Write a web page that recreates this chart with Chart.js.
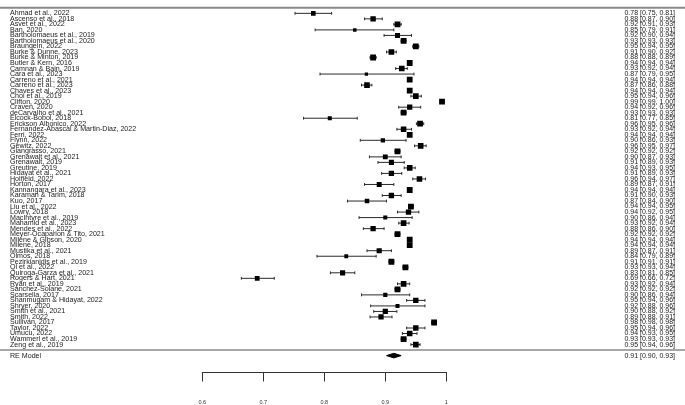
<!DOCTYPE html>
<html>
<head>
<meta charset="utf-8">
<script src="https://cdn.jsdelivr.net/npm/chart.js@4.4.0/dist/chart.umd.min.js"></script>
<style>
html,body{margin:0;padding:0;background:#fff;}
#wrap{width:685px;height:405px;position:relative;}
</style>
</head>
<body>
<div id="wrap"><canvas id="c"></canvas></div>
<script>
const studies = [
  "Ahmad et al., 2022","Ascenso et al., 2018","Asvet et al., 2022","Ban, 2020",
  "Bartholomaeus et al., 2019","Bartholomaeus et al., 2020","Braungein, 2022",
  "Burke & Dunne, 2023","Burke & Minton, 2019","Butler & Kern, 2016","Camnan & Bain, 2019",
  "Cara et al., 2023","Carreno et al., 2021","Carreno et al., 2023","Chaves et al., 2023",
  "Choi et al., 2019","Clifton, 2020","Craven, 2020","deCarvalho et al., 2021",
  "Elcock-Bobol, 2018","Erickson Albonico, 2022","Fernandez-Abascal & Martin-Diaz, 2022",
  "Ferri, 2022","Flynn, 2022","Gewitz, 2022","Giangrasso, 2021","Grenawalt et al., 2021",
  "Grenawalt, 2019","Greutine, 2019","Hidayat et al., 2021","Holfield, 2022","Horton, 2017",
  "Kannangara et al., 2023","Karaman & Tarim, 2018","Kuo, 2017","Liu et al., 2022",
  "Lowry, 2018","MacIntyre et al., 2019","Mahamid et al., 2023","Mendes et al., 2022",
  "Meyer-Ocaparion & Tito, 2021","Milene & Gibson, 2020","Milene, 2018","Mustika et al., 2021",
  "Olmos, 2018","Pezirkianidis et al., 2019","Qi et al., 2022","Quiroga-Garza et al., 2021",
  "Rogers & Hart, 2021","Ryan et al., 2019","Sanchez-Solane, 2021","Scarsella, 2017",
  "Shanmugam & Hidayat, 2022","Shryer, 2020","Smith et al., 2021","Smith, 2022",
  "Sullivan, 2017","Taylor, 2022","Umucu, 2022","Wammerl et al., 2019","Zeng et al., 2019"
];
const estimates = [
  0.782,0.880,0.920,0.850,0.920,0.930,0.950,0.910,0.880,0.940,0.927,
  0.869,0.940,0.870,0.940,0.950,0.993,0.940,0.930,0.809,0.957,0.930,
  0.940,0.896,0.958,0.920,0.900,0.910,0.940,0.910,0.956,0.890,0.940,
  0.910,0.870,0.942,0.938,0.900,0.930,0.880,0.920,0.940,0.940,0.890,
  0.836,0.910,0.933,0.830,0.690,0.930,0.920,0.900,0.950,0.920,0.900,
  0.893,0.980,0.950,0.940,0.930,0.950
];
const ciLower = [
  0.752,0.866,0.914,0.785,0.898,0.926,0.945,0.902,0.875,0.937,0.917,
  0.793,0.937,0.861,0.937,0.942,0.990,0.922,0.926,0.766,0.951,0.919,
  0.937,0.859,0.948,0.916,0.874,0.888,0.931,0.894,0.945,0.866,0.937,
  0.895,0.838,0.938,0.920,0.857,0.922,0.864,0.916,0.937,0.937,0.870,
  0.788,0.906,0.929,0.810,0.664,0.920,0.916,0.861,0.935,0.876,0.881,
  0.875,0.976,0.935,0.928,0.926,0.942
];
const ciUpper = [
  0.812,0.895,0.926,0.914,0.943,0.934,0.955,0.918,0.885,0.943,0.936,
  0.947,0.943,0.878,0.943,0.959,0.996,0.958,0.934,0.854,0.963,0.943,
  0.943,0.934,0.967,0.924,0.926,0.931,0.949,0.927,0.966,0.914,0.943,
  0.926,0.902,0.946,0.955,0.944,0.939,0.898,0.924,0.943,0.943,0.910,
  0.885,0.914,0.937,0.850,0.718,0.940,0.924,0.940,0.965,0.965,0.919,
  0.911,0.984,0.965,0.952,0.934,0.957
];
const summaryLabel = "RE Model";
const summaryEst = 0.914;
const summaryLower = 0.902;
const summaryUpper = 0.926;
const xTicks = [0.6, 0.7, 0.8, 0.9, 1];

// layout helpers
const k = studies.length;
const rowPos = studies.map((_, i) => k - i);
const summaryPos = -1;
const tickVals = [...rowPos, summaryPos];
const fmt = v => v.toFixed(2);
const ciText = studies.map((_, i) => `${fmt(estimates[i])} [${fmt(ciLower[i])}, ${fmt(ciUpper[i])}]`);
const allLeft = [...studies, summaryLabel];
const allRight = [...ciText, `${fmt(summaryEst)} [${fmt(summaryLower)}, ${fmt(summaryUpper)}]`];

// square size from inverse-variance (random-effects) weight
const tau2 = 4e-4;
const wts = studies.map((_, i) => { const se = (ciUpper[i] - ciLower[i]) / 3.92; return 1 / (se * se + tau2); });
const wMax = Math.max(...wts);
const radii = wts.map(w => (2.6 + 3.2 * w / wMax) / Math.SQRT2);

const ciData = [];
const capData = [];
studies.forEach((_, i) => {
  ciData.push({x: ciLower[i], y: rowPos[i]}, {x: ciUpper[i], y: rowPos[i]}, {x: NaN, y: rowPos[i]});
  capData.push({x: ciLower[i], y: rowPos[i]}, {x: ciUpper[i], y: rowPos[i]});
});
const pointData = studies.map((_, i) => ({x: estimates[i], y: rowPos[i]}));
const dh = 0.42;
const diamondData = [
  {x: summaryLower, y: summaryPos}, {x: summaryEst, y: summaryPos + dh},
  {x: summaryUpper, y: summaryPos}, {x: summaryEst, y: summaryPos - dh},
  {x: summaryLower, y: summaryPos}
];

const FONT = "'Liberation Sans', Arial, sans-serif";
const yMax = 62.1, yMin = -4.06;

const separators = {
  id: 'separators',
  afterDraw(chart) {
    const ctx = chart.ctx, y = chart.scales.y;
    ctx.save();
    ctx.strokeStyle = '#8a8a8a';
    [[k + 1, 2], [0, 1.5]].forEach(([v, w]) => {
      const py = y.getPixelForValue(v);
      ctx.lineWidth = w;
      ctx.beginPath(); ctx.moveTo(0, py); ctx.lineTo(chart.width, py); ctx.stroke();
    });
    ctx.restore();
  }
};

new Chart(document.getElementById('c'), {
  type: 'scatter',
  data: {
    datasets: [
      {type: 'line', data: ciData, borderColor: '#2a2a2a', borderWidth: 1, pointRadius: 0,
       spanGaps: false, fill: false, tension: 0, order: 3},
      {type: 'scatter', data: capData, pointStyle: 'line', rotation: 90, pointRadius: 1.4,
       borderColor: '#2a2a2a', borderWidth: 1, order: 2},
      {type: 'scatter', data: pointData, pointStyle: 'rect', pointRadius: c => radii[c.dataIndex],
       backgroundColor: '#000', borderWidth: 0, order: 1},
      {type: 'line', data: diamondData, borderColor: '#000', backgroundColor: '#000', borderWidth: 1,
       pointRadius: 0, fill: 'shape', tension: 0, order: 0}
    ]
  },
  options: {
    responsive: true,
    maintainAspectRatio: false,
    animation: false,
    events: [],
    layout: {padding: {left: 10, right: 10, top: 0, bottom: 0}},
    plugins: {legend: {display: false}, tooltip: {enabled: false}},
    scales: {
      x: {
        type: 'linear', position: 'bottom', min: 0.6, max: 1.0,
        afterBuildTicks: a => { a.ticks = xTicks.map(v => ({value: v})); },
        afterFit: s => { s.height = 32.5; },
        grid: {drawOnChartArea: false, drawTicks: true, tickLength: 9, color: '#333', tickWidth: 1},
        border: {display: true, color: '#333', width: 1},
        ticks: {font: {family: FONT, size: 5.5}, color: '#333', padding: 17.5, maxRotation: 0,
                autoSkip: false, callback: (v, i) => String(xTicks[i])}
      },
      y: {
        type: 'linear', position: 'left', min: yMin, max: yMax,
        afterBuildTicks: a => { a.ticks = tickVals.map(v => ({value: v})); },
        afterFit: s => { s.width = 192.3; },
        grid: {display: false}, border: {display: false},
        ticks: {autoSkip: false, crossAlign: 'far', font: {family: FONT, size: 7.1}, color: '#222',
                callback: (v, i) => allLeft[i]}
      },
      y2: {
        type: 'linear', position: 'right', min: yMin, max: yMax,
        afterBuildTicks: a => { a.ticks = tickVals.map(v => ({value: v})); },
        afterFit: s => { s.width = 228.7; },
        grid: {display: false}, border: {display: false},
        ticks: {autoSkip: false, crossAlign: 'far', font: {family: FONT, size: 7}, color: '#222',
                callback: (v, i) => allRight[i]}
      }
    }
  },
  plugins: [separators]
});
</script>
</body>
</html>
